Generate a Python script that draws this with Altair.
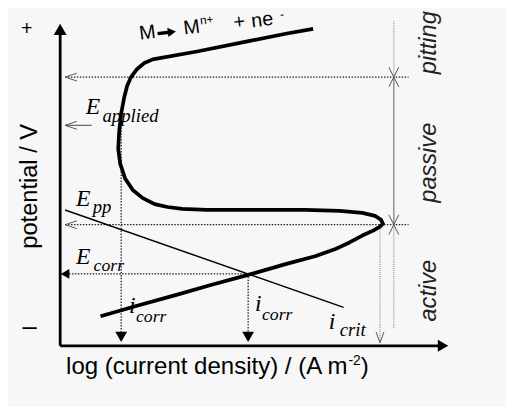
import altair as alt
import pandas as pd

# Diagram units: u = log(current density) (arbitrary units, 0 at the axis corner),
# v = potential (arbitrary units, 0 at the axis corner)

# Anodic polarisation curve (thick): active -> passive -> pitting
anodic_logi = [41, 79, 119, 154, 191, 229, 259, 279, 294, 307, 318, 325, 328,
               326, 320, 307, 284, 249, 199, 149, 124, 109, 96, 84, 74, 66, 61,
               59, 60, 62, 65, 68, 72, 78, 85, 94, 139, 189, 229, 257]
anodic_E = [30, 41, 52, 62, 72, 83, 91, 98, 105, 112, 117, 121, 124,
            128, 132, 135, 137, 138, 138, 138, 139, 141, 144, 150, 158, 170, 185,
            200, 218, 236, 252, 264, 273, 281, 287, 291, 299, 309, 317, 322]

# Cathodic line (thin)
cathodic_logi = [5, 288]
cathodic_E = [138, 39]

# Characteristic levels
E_pit, E_applied, E_pp, E_corr = 273, 224, 123, 73
i_pass, i_corr, i_crit = 62, 191, 325
region_u = 339

X_DOM = [-53, 453]
Y_DOM = [-59, 340]
W, H = 506, 399
xs = alt.Scale(domain=X_DOM, nice=False, zero=False)
ys = alt.Scale(domain=Y_DOM, nice=False, zero=False)


def X(f="u"):
    return alt.X(f"{f}:Q", scale=xs, axis=None)


def Y(f="v"):
    return alt.Y(f"{f}:Q", scale=ys, axis=None)


def seg(rows):
    return pd.DataFrame(rows, columns=["u", "v", "u2", "v2"])


def rules(rows, **mk):
    return alt.Chart(seg(rows)).mark_rule(**mk).encode(
        x=X(), y=Y(), x2="u2:Q", y2="v2:Q")


def texts(rows, **mk):
    df = pd.DataFrame(rows, columns=["t", "u", "v", "fs", "ang"])
    return alt.Chart(df).mark_text(**mk).encode(
        x=X(), y=Y(), text="t:N",
        size=alt.Size("fs:Q", scale=None, legend=None),
        angle=alt.Angle("ang:Q", scale=None))


anodic_df = pd.DataFrame({"u": anodic_logi, "v": anodic_E,
                          "k": list(range(len(anodic_logi)))})
cathodic_df = pd.DataFrame({"u": cathodic_logi, "v": cathodic_E, "k": [0, 1]})

anodic = alt.Chart(anodic_df).mark_line(
    color="black", strokeWidth=3.8, strokeJoin="round", interpolate="linear"
).encode(x=X(), y=Y(), order="k:Q")
cathodic = alt.Chart(cathodic_df).mark_line(color="black", strokeWidth=1.5).encode(
    x=X(), y=Y(), order="k:Q")

axes = rules([[0, 0, 0, 318], [0, 0, 386, 0]], color="black", strokeWidth=2.8)

dotted_black = rules([
    [5, E_pit, 354, E_pit],
    [5, E_pp, 354, E_pp],
    [0, E_corr, i_corr, E_corr],
    [i_pass, 225, i_pass, 12],
    [i_corr, E_corr, i_corr, 12],
], color="#222222", strokeWidth=1.3, strokeDash=[1.5, 1.5])

dotted_gray = rules([
    [region_u, 330, region_u, E_pit],
    [region_u, E_pp, region_u, 18],
    [i_crit, E_pp, i_crit, 3],
], color="#8a8a8a", strokeWidth=1.1, strokeDash=[1, 1])

solid_gray = rules([
    [region_u, E_pit, region_u, E_pp],
], color="#777777", strokeWidth=1.2)

arrow_applied = rules([[5, E_applied, 32, E_applied]], color="#555555", strokeWidth=1.1)

chevrons = rules([
    [5, E_pit, 17, E_pit + 4], [5, E_pit, 17, E_pit - 4],
    [5, E_applied, 17, E_applied + 4], [5, E_applied, 17, E_applied - 4],
    [5, E_pp, 17, E_pp + 4], [5, E_pp, 17, E_pp - 4],
    [i_crit, 3, i_crit - 4, 14], [i_crit, 3, i_crit + 4, 14],
    [region_u, E_pit, region_u - 5, E_pit + 10], [region_u, E_pit, region_u + 5, E_pit + 10],
    [region_u, E_pit, region_u - 5, E_pit - 10], [region_u, E_pit, region_u + 5, E_pit - 10],
    [region_u, E_pp, region_u - 5, E_pp + 10], [region_u, E_pp, region_u + 5, E_pp + 10],
    [region_u, E_pp, region_u - 5, E_pp - 10], [region_u, E_pp, region_u + 5, E_pp - 10],
], color="#555555", strokeWidth=1)

# heavy reaction arrow in "M -> M^n+ + ne-" (shaft)
reaction_shaft = rules([[99, 317.1, 111, 318.6]], color="black", strokeWidth=3.4)

heads_df = pd.DataFrame({
    "u": [0, 389, 5, i_pass, i_corr, 113.5],
    "v": [321.5, 0, E_corr, 9, 9, 318.9],
    "shape": ["triangle-up", "triangle-right", "triangle-left", "triangle-down",
              "triangle-down", "triangle-right"],
    "sz": [169, 150, 100, 144, 144, 90],
    "ang": [0, 0, 0, 0, 0, 353],
})
heads = alt.Chart(heads_df).mark_point(filled=True, color="black", opacity=1, strokeWidth=0).encode(
    x=X(), y=Y(),
    shape=alt.Shape("shape:N", scale=None, legend=None),
    size=alt.Size("sz:Q", scale=None, legend=None),
    angle=alt.Angle("ang:Q", scale=None))

SANS = "Liberation Sans"
SERIF = "Liberation Serif"

sans_center = texts([
    ["+", -34, 316, 20, 0],
    ["–", -31, 11, 26, 0],
    ["potential / V", -24, 162, 24, 270],
], font=SANS, align="center", baseline="alphabetic", color="black")

sans_left = texts([
    ["log (current density) / (A m", 6, -29, 24.4, 0],
    ["-2", 293, -20, 14, 0],
    [")", 305.5, -29, 24.4, 0],
    ["M", 81, 311, 20, 353],
    ["M", 126, 316.4, 20, 353],
    ["n+", 142.5, 326.4, 12, 353],
    ["+", 177, 322, 20, 353],
    ["ne", 195, 323.5, 20, 353],
    ["-", 224, 332.5, 12, 353],
], font=SANS, align="left", baseline="alphabetic", color="black")

regions = texts([
    ["pitting", 382, 308, 24, 270],
    ["passive", 382, 186, 24, 270],
    ["active", 382, 56, 24, 270],
], font=SANS, fontStyle="italic", align="center", baseline="alphabetic", color="#222222")

serif_big = texts([
    ["E", 26, 235, 24, 0],
    ["E", 16, 142, 24, 0],
    ["E", 16, 83, 24, 0],
    ["i", 70, 33, 24, 0],
    ["i", 198, 35, 24, 0],
    ["i", 273, 17, 24, 0],
], font=SERIF, fontStyle="italic", align="left", baseline="alphabetic", color="black")

serif_sub = texts([
    ["applied", 43, 227, 19, 0],
    ["pp", 33, 135, 19, 0],
    ["corr", 34, 76, 18, 0],
    ["corr", 77, 24, 18, 0],
    ["corr", 205, 26, 18, 0],
    ["crit", 284, 10, 19, 0],
], font=SERIF, fontStyle="italic", align="left", baseline="alphabetic", color="black")

chart = alt.layer(
    dotted_black, dotted_gray, solid_gray, arrow_applied, chevrons,
    cathodic, anodic, axes, reaction_shaft, heads,
    sans_center, sans_left, regions, serif_big, serif_sub,
).properties(
    width=W, height=H, padding=0, autosize="none", background="#f7f7f7"
).configure_view(strokeWidth=0)

chart.save("out.html", embed_options={"renderer": "svg", "actions": False})
